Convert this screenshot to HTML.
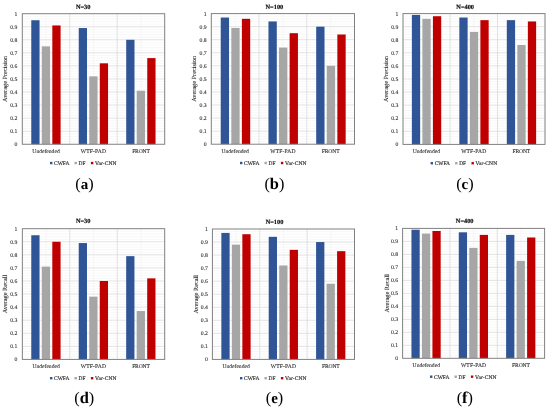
<!DOCTYPE html>
<html lang="en">
<head>
<meta charset="utf-8">
<title>Average precision and recall</title>
<style>
html,body{margin:0;padding:0;background:#fff;}
body{width:550px;height:410px;overflow:hidden;}
svg{display:block;}
text{font-family:"Liberation Serif","DejaVu Serif",serif;fill:#262626;text-rendering:geometricPrecision;}
.mn{stroke:#f1f1f1;stroke-width:0.5;}
.mj{stroke:#d6d6d6;stroke-width:0.7;}
.bd{fill:none;stroke:#808080;stroke-width:1;}
.tk{font-size:5.7px;text-anchor:end;fill:#2e2e2e;stroke:#2e2e2e;stroke-width:0.1;}
.yl{font-size:6.3px;text-anchor:middle;fill:#2e2e2e;stroke:#2e2e2e;stroke-width:0.1;}
.tt{font-size:6.35px;font-weight:bold;text-anchor:middle;fill:#111;stroke:#111;stroke-width:0.18;}
.ct{font-size:5.6px;text-anchor:middle;fill:#2e2e2e;stroke:#2e2e2e;stroke-width:0.1;}
.lg{font-size:5.45px;fill:#262626;stroke:#262626;stroke-width:0.14;}
.cp{font-size:14.7px;text-anchor:middle;fill:#000;}
.cp .bl{font-weight:bold;}
.cp .pr{font-size:16.3px;}
</style>
</head>
<body>
<svg width="550" height="410" viewBox="0 0 550 410">
<rect width="550" height="410" fill="#ffffff"/>
<g class="chart" id="chart-a">
<line class="mn" x1="22.3" x2="164.7" y1="16.31" y2="16.31"/>
<line class="mn" x1="22.3" x2="164.7" y1="18.92" y2="18.92"/>
<line class="mn" x1="22.3" x2="164.7" y1="21.53" y2="21.53"/>
<line class="mn" x1="22.3" x2="164.7" y1="24.14" y2="24.14"/>
<line class="mn" x1="22.3" x2="164.7" y1="29.37" y2="29.37"/>
<line class="mn" x1="22.3" x2="164.7" y1="31.98" y2="31.98"/>
<line class="mn" x1="22.3" x2="164.7" y1="34.59" y2="34.59"/>
<line class="mn" x1="22.3" x2="164.7" y1="37.2" y2="37.2"/>
<line class="mn" x1="22.3" x2="164.7" y1="42.42" y2="42.42"/>
<line class="mn" x1="22.3" x2="164.7" y1="45.03" y2="45.03"/>
<line class="mn" x1="22.3" x2="164.7" y1="47.64" y2="47.64"/>
<line class="mn" x1="22.3" x2="164.7" y1="50.25" y2="50.25"/>
<line class="mn" x1="22.3" x2="164.7" y1="55.48" y2="55.48"/>
<line class="mn" x1="22.3" x2="164.7" y1="58.09" y2="58.09"/>
<line class="mn" x1="22.3" x2="164.7" y1="60.7" y2="60.7"/>
<line class="mn" x1="22.3" x2="164.7" y1="63.31" y2="63.31"/>
<line class="mn" x1="22.3" x2="164.7" y1="68.53" y2="68.53"/>
<line class="mn" x1="22.3" x2="164.7" y1="71.14" y2="71.14"/>
<line class="mn" x1="22.3" x2="164.7" y1="73.75" y2="73.75"/>
<line class="mn" x1="22.3" x2="164.7" y1="76.36" y2="76.36"/>
<line class="mn" x1="22.3" x2="164.7" y1="81.59" y2="81.59"/>
<line class="mn" x1="22.3" x2="164.7" y1="84.2" y2="84.2"/>
<line class="mn" x1="22.3" x2="164.7" y1="86.81" y2="86.81"/>
<line class="mn" x1="22.3" x2="164.7" y1="89.42" y2="89.42"/>
<line class="mn" x1="22.3" x2="164.7" y1="94.64" y2="94.64"/>
<line class="mn" x1="22.3" x2="164.7" y1="97.25" y2="97.25"/>
<line class="mn" x1="22.3" x2="164.7" y1="99.86" y2="99.86"/>
<line class="mn" x1="22.3" x2="164.7" y1="102.47" y2="102.47"/>
<line class="mn" x1="22.3" x2="164.7" y1="107.7" y2="107.7"/>
<line class="mn" x1="22.3" x2="164.7" y1="110.31" y2="110.31"/>
<line class="mn" x1="22.3" x2="164.7" y1="112.92" y2="112.92"/>
<line class="mn" x1="22.3" x2="164.7" y1="115.53" y2="115.53"/>
<line class="mn" x1="22.3" x2="164.7" y1="120.75" y2="120.75"/>
<line class="mn" x1="22.3" x2="164.7" y1="123.36" y2="123.36"/>
<line class="mn" x1="22.3" x2="164.7" y1="125.97" y2="125.97"/>
<line class="mn" x1="22.3" x2="164.7" y1="128.58" y2="128.58"/>
<line class="mn" x1="22.3" x2="164.7" y1="133.81" y2="133.81"/>
<line class="mn" x1="22.3" x2="164.7" y1="136.42" y2="136.42"/>
<line class="mn" x1="22.3" x2="164.7" y1="139.03" y2="139.03"/>
<line class="mn" x1="22.3" x2="164.7" y1="141.64" y2="141.64"/>
<line class="mn" x1="46.03" x2="46.03" y1="13.7" y2="144.25"/>
<line class="mn" x1="93.5" x2="93.5" y1="13.7" y2="144.25"/>
<line class="mn" x1="140.97" x2="140.97" y1="13.7" y2="144.25"/>
<line class="mj" x1="22.3" x2="164.7" y1="26.76" y2="26.76"/>
<line class="mj" x1="22.3" x2="164.7" y1="39.81" y2="39.81"/>
<line class="mj" x1="22.3" x2="164.7" y1="52.87" y2="52.87"/>
<line class="mj" x1="22.3" x2="164.7" y1="65.92" y2="65.92"/>
<line class="mj" x1="22.3" x2="164.7" y1="78.98" y2="78.98"/>
<line class="mj" x1="22.3" x2="164.7" y1="92.03" y2="92.03"/>
<line class="mj" x1="22.3" x2="164.7" y1="105.09" y2="105.09"/>
<line class="mj" x1="22.3" x2="164.7" y1="118.14" y2="118.14"/>
<line class="mj" x1="22.3" x2="164.7" y1="131.19" y2="131.19"/>
<line class="mj" x1="69.77" x2="69.77" y1="13.7" y2="144.25"/>
<line class="mj" x1="117.23" x2="117.23" y1="13.7" y2="144.25"/>
<rect x="31.27" y="20.23" width="8.28" height="124.02" fill="#2f5597"/>
<rect x="41.79" y="46.34" width="8.28" height="97.91" fill="#a6a6a6"/>
<rect x="52.32" y="25.45" width="8.28" height="118.8" fill="#c00000"/>
<rect x="78.74" y="28.06" width="8.28" height="116.19" fill="#2f5597"/>
<rect x="89.26" y="76.36" width="8.28" height="67.89" fill="#a6a6a6"/>
<rect x="99.78" y="63.31" width="8.28" height="80.94" fill="#c00000"/>
<rect x="126.21" y="39.81" width="8.28" height="104.44" fill="#2f5597"/>
<rect x="136.73" y="90.72" width="8.28" height="53.53" fill="#a6a6a6"/>
<rect x="147.25" y="58.09" width="8.28" height="86.16" fill="#c00000"/>
<rect class="bd" x="22.3" y="13.7" width="142.4" height="130.55"/>
<text class="tk" x="17.3" y="146.2">0</text>
<text class="tk" x="17.3" y="133.14">0.1</text>
<text class="tk" x="17.3" y="120.09">0.2</text>
<text class="tk" x="17.3" y="107.03">0.3</text>
<text class="tk" x="17.3" y="93.98">0.4</text>
<text class="tk" x="17.3" y="80.92">0.5</text>
<text class="tk" x="17.3" y="67.87">0.6</text>
<text class="tk" x="17.3" y="54.81">0.7</text>
<text class="tk" x="17.3" y="41.76">0.8</text>
<text class="tk" x="17.3" y="28.7">0.9</text>
<text class="tk" x="17.3" y="15.65">1</text>
<text class="yl" transform="translate(7 78.97) rotate(-90)">Average Precision</text>
<text class="tt" x="83.2" y="8.7">N=30</text>
<text class="ct" x="46.03" y="152.65">Undefended</text>
<text class="ct" x="93.5" y="152.65" letter-spacing="0.14">WTF-PAD</text>
<text class="ct" x="140.97" y="152.65" letter-spacing="-0.14">FRONT</text>
<rect x="50" y="161.85" width="2.4" height="2.4" fill="#2f5597"/>
<text class="lg" x="54.1" y="164.9">CWFA</text>
<rect x="74.5" y="161.85" width="2.4" height="2.4" fill="#a6a6a6"/>
<text class="lg" x="78.6" y="164.9">DF</text>
<rect x="90.9" y="161.85" width="2.4" height="2.4" fill="#c00000"/>
<text class="lg" x="95" y="164.9" letter-spacing="0.13">Var-CNN</text>
<text class="cp" x="84.4" y="189.1"><tspan class="pr" dy="-0.3">(</tspan><tspan class="bl" dy="0.3" font-size="15">a</tspan><tspan class="pr" dy="-0.3">)</tspan></text>
</g>
<g class="chart" id="chart-b">
<line class="mn" x1="211.3" x2="354.5" y1="16.21" y2="16.21"/>
<line class="mn" x1="211.3" x2="354.5" y1="18.82" y2="18.82"/>
<line class="mn" x1="211.3" x2="354.5" y1="21.44" y2="21.44"/>
<line class="mn" x1="211.3" x2="354.5" y1="24.05" y2="24.05"/>
<line class="mn" x1="211.3" x2="354.5" y1="29.27" y2="29.27"/>
<line class="mn" x1="211.3" x2="354.5" y1="31.88" y2="31.88"/>
<line class="mn" x1="211.3" x2="354.5" y1="34.5" y2="34.5"/>
<line class="mn" x1="211.3" x2="354.5" y1="37.11" y2="37.11"/>
<line class="mn" x1="211.3" x2="354.5" y1="42.33" y2="42.33"/>
<line class="mn" x1="211.3" x2="354.5" y1="44.94" y2="44.94"/>
<line class="mn" x1="211.3" x2="354.5" y1="47.56" y2="47.56"/>
<line class="mn" x1="211.3" x2="354.5" y1="50.17" y2="50.17"/>
<line class="mn" x1="211.3" x2="354.5" y1="55.39" y2="55.39"/>
<line class="mn" x1="211.3" x2="354.5" y1="58" y2="58"/>
<line class="mn" x1="211.3" x2="354.5" y1="60.62" y2="60.62"/>
<line class="mn" x1="211.3" x2="354.5" y1="63.23" y2="63.23"/>
<line class="mn" x1="211.3" x2="354.5" y1="68.45" y2="68.45"/>
<line class="mn" x1="211.3" x2="354.5" y1="71.06" y2="71.06"/>
<line class="mn" x1="211.3" x2="354.5" y1="73.68" y2="73.68"/>
<line class="mn" x1="211.3" x2="354.5" y1="76.29" y2="76.29"/>
<line class="mn" x1="211.3" x2="354.5" y1="81.51" y2="81.51"/>
<line class="mn" x1="211.3" x2="354.5" y1="84.12" y2="84.12"/>
<line class="mn" x1="211.3" x2="354.5" y1="86.74" y2="86.74"/>
<line class="mn" x1="211.3" x2="354.5" y1="89.35" y2="89.35"/>
<line class="mn" x1="211.3" x2="354.5" y1="94.57" y2="94.57"/>
<line class="mn" x1="211.3" x2="354.5" y1="97.18" y2="97.18"/>
<line class="mn" x1="211.3" x2="354.5" y1="99.8" y2="99.8"/>
<line class="mn" x1="211.3" x2="354.5" y1="102.41" y2="102.41"/>
<line class="mn" x1="211.3" x2="354.5" y1="107.63" y2="107.63"/>
<line class="mn" x1="211.3" x2="354.5" y1="110.24" y2="110.24"/>
<line class="mn" x1="211.3" x2="354.5" y1="112.86" y2="112.86"/>
<line class="mn" x1="211.3" x2="354.5" y1="115.47" y2="115.47"/>
<line class="mn" x1="211.3" x2="354.5" y1="120.69" y2="120.69"/>
<line class="mn" x1="211.3" x2="354.5" y1="123.3" y2="123.3"/>
<line class="mn" x1="211.3" x2="354.5" y1="125.92" y2="125.92"/>
<line class="mn" x1="211.3" x2="354.5" y1="128.53" y2="128.53"/>
<line class="mn" x1="211.3" x2="354.5" y1="133.75" y2="133.75"/>
<line class="mn" x1="211.3" x2="354.5" y1="136.36" y2="136.36"/>
<line class="mn" x1="211.3" x2="354.5" y1="138.98" y2="138.98"/>
<line class="mn" x1="211.3" x2="354.5" y1="141.59" y2="141.59"/>
<line class="mn" x1="235.17" x2="235.17" y1="13.6" y2="144.2"/>
<line class="mn" x1="282.9" x2="282.9" y1="13.6" y2="144.2"/>
<line class="mn" x1="330.63" x2="330.63" y1="13.6" y2="144.2"/>
<line class="mj" x1="211.3" x2="354.5" y1="26.66" y2="26.66"/>
<line class="mj" x1="211.3" x2="354.5" y1="39.72" y2="39.72"/>
<line class="mj" x1="211.3" x2="354.5" y1="52.78" y2="52.78"/>
<line class="mj" x1="211.3" x2="354.5" y1="65.84" y2="65.84"/>
<line class="mj" x1="211.3" x2="354.5" y1="78.9" y2="78.9"/>
<line class="mj" x1="211.3" x2="354.5" y1="91.96" y2="91.96"/>
<line class="mj" x1="211.3" x2="354.5" y1="105.02" y2="105.02"/>
<line class="mj" x1="211.3" x2="354.5" y1="118.08" y2="118.08"/>
<line class="mj" x1="211.3" x2="354.5" y1="131.14" y2="131.14"/>
<line class="mj" x1="259.03" x2="259.03" y1="13.6" y2="144.2"/>
<line class="mj" x1="306.77" x2="306.77" y1="13.6" y2="144.2"/>
<rect x="220.73" y="17.52" width="8.32" height="126.68" fill="#2f5597"/>
<rect x="231.31" y="27.97" width="8.32" height="116.23" fill="#a6a6a6"/>
<rect x="241.88" y="18.82" width="8.32" height="125.38" fill="#c00000"/>
<rect x="268.46" y="21.44" width="8.32" height="122.76" fill="#2f5597"/>
<rect x="279.04" y="47.56" width="8.32" height="96.64" fill="#a6a6a6"/>
<rect x="289.62" y="33.19" width="8.32" height="111.01" fill="#c00000"/>
<rect x="316.19" y="26.66" width="8.32" height="117.54" fill="#2f5597"/>
<rect x="326.77" y="65.84" width="8.32" height="78.36" fill="#a6a6a6"/>
<rect x="337.35" y="34.5" width="8.32" height="109.7" fill="#c00000"/>
<rect class="bd" x="211.3" y="13.6" width="143.2" height="130.6"/>
<text class="tk" x="206.65" y="146.15">0</text>
<text class="tk" x="206.65" y="133.09">0.1</text>
<text class="tk" x="206.65" y="120.03">0.2</text>
<text class="tk" x="206.65" y="106.97">0.3</text>
<text class="tk" x="206.65" y="93.91">0.4</text>
<text class="tk" x="206.65" y="80.85">0.5</text>
<text class="tk" x="206.65" y="67.79">0.6</text>
<text class="tk" x="206.65" y="54.73">0.7</text>
<text class="tk" x="206.65" y="41.67">0.8</text>
<text class="tk" x="206.65" y="28.61">0.9</text>
<text class="tk" x="206.65" y="15.55">1</text>
<text class="yl" transform="translate(196 78.9) rotate(-90)">Average Precision</text>
<text class="tt" x="274.4" y="8.6">N=100</text>
<text class="ct" x="235.17" y="152.6">Undefended</text>
<text class="ct" x="282.9" y="152.6" letter-spacing="0.14">WTF-PAD</text>
<text class="ct" x="330.63" y="152.6" letter-spacing="-0.14">FRONT</text>
<rect x="240" y="161.8" width="2.4" height="2.4" fill="#2f5597"/>
<text class="lg" x="244.1" y="164.85">CWFA</text>
<rect x="264.5" y="161.8" width="2.4" height="2.4" fill="#a6a6a6"/>
<text class="lg" x="268.6" y="164.85">DF</text>
<rect x="280.9" y="161.8" width="2.4" height="2.4" fill="#c00000"/>
<text class="lg" x="285" y="164.85" letter-spacing="0.13">Var-CNN</text>
<text class="cp" x="274.4" y="189.2"><tspan class="pr" dy="-0.3">(</tspan><tspan class="bl" dy="0.3" font-size="16.4">b</tspan><tspan class="pr" dy="-0.3">)</tspan></text>
</g>
<g class="chart" id="chart-c">
<line class="mn" x1="403" x2="545" y1="16.22" y2="16.22"/>
<line class="mn" x1="403" x2="545" y1="18.83" y2="18.83"/>
<line class="mn" x1="403" x2="545" y1="21.45" y2="21.45"/>
<line class="mn" x1="403" x2="545" y1="24.06" y2="24.06"/>
<line class="mn" x1="403" x2="545" y1="29.3" y2="29.3"/>
<line class="mn" x1="403" x2="545" y1="31.91" y2="31.91"/>
<line class="mn" x1="403" x2="545" y1="34.53" y2="34.53"/>
<line class="mn" x1="403" x2="545" y1="37.14" y2="37.14"/>
<line class="mn" x1="403" x2="545" y1="42.38" y2="42.38"/>
<line class="mn" x1="403" x2="545" y1="44.99" y2="44.99"/>
<line class="mn" x1="403" x2="545" y1="47.61" y2="47.61"/>
<line class="mn" x1="403" x2="545" y1="50.22" y2="50.22"/>
<line class="mn" x1="403" x2="545" y1="55.46" y2="55.46"/>
<line class="mn" x1="403" x2="545" y1="58.07" y2="58.07"/>
<line class="mn" x1="403" x2="545" y1="60.69" y2="60.69"/>
<line class="mn" x1="403" x2="545" y1="63.3" y2="63.3"/>
<line class="mn" x1="403" x2="545" y1="68.54" y2="68.54"/>
<line class="mn" x1="403" x2="545" y1="71.15" y2="71.15"/>
<line class="mn" x1="403" x2="545" y1="73.77" y2="73.77"/>
<line class="mn" x1="403" x2="545" y1="76.38" y2="76.38"/>
<line class="mn" x1="403" x2="545" y1="81.62" y2="81.62"/>
<line class="mn" x1="403" x2="545" y1="84.23" y2="84.23"/>
<line class="mn" x1="403" x2="545" y1="86.85" y2="86.85"/>
<line class="mn" x1="403" x2="545" y1="89.46" y2="89.46"/>
<line class="mn" x1="403" x2="545" y1="94.7" y2="94.7"/>
<line class="mn" x1="403" x2="545" y1="97.31" y2="97.31"/>
<line class="mn" x1="403" x2="545" y1="99.93" y2="99.93"/>
<line class="mn" x1="403" x2="545" y1="102.54" y2="102.54"/>
<line class="mn" x1="403" x2="545" y1="107.78" y2="107.78"/>
<line class="mn" x1="403" x2="545" y1="110.39" y2="110.39"/>
<line class="mn" x1="403" x2="545" y1="113.01" y2="113.01"/>
<line class="mn" x1="403" x2="545" y1="115.62" y2="115.62"/>
<line class="mn" x1="403" x2="545" y1="120.86" y2="120.86"/>
<line class="mn" x1="403" x2="545" y1="123.47" y2="123.47"/>
<line class="mn" x1="403" x2="545" y1="126.09" y2="126.09"/>
<line class="mn" x1="403" x2="545" y1="128.7" y2="128.7"/>
<line class="mn" x1="403" x2="545" y1="133.94" y2="133.94"/>
<line class="mn" x1="403" x2="545" y1="136.55" y2="136.55"/>
<line class="mn" x1="403" x2="545" y1="139.17" y2="139.17"/>
<line class="mn" x1="403" x2="545" y1="141.78" y2="141.78"/>
<line class="mn" x1="426.33" x2="426.33" y1="13.6" y2="144.4"/>
<line class="mn" x1="473.8" x2="473.8" y1="13.6" y2="144.4"/>
<line class="mn" x1="521.27" x2="521.27" y1="13.6" y2="144.4"/>
<line class="mj" x1="403" x2="545" y1="26.68" y2="26.68"/>
<line class="mj" x1="403" x2="545" y1="39.76" y2="39.76"/>
<line class="mj" x1="403" x2="545" y1="52.84" y2="52.84"/>
<line class="mj" x1="403" x2="545" y1="65.92" y2="65.92"/>
<line class="mj" x1="403" x2="545" y1="79" y2="79"/>
<line class="mj" x1="403" x2="545" y1="92.08" y2="92.08"/>
<line class="mj" x1="403" x2="545" y1="105.16" y2="105.16"/>
<line class="mj" x1="403" x2="545" y1="118.24" y2="118.24"/>
<line class="mj" x1="403" x2="545" y1="131.32" y2="131.32"/>
<line class="mj" x1="450.07" x2="450.07" y1="13.6" y2="144.4"/>
<line class="mj" x1="497.53" x2="497.53" y1="13.6" y2="144.4"/>
<rect x="411.87" y="14.91" width="8.28" height="129.49" fill="#2f5597"/>
<rect x="422.39" y="18.83" width="8.28" height="125.57" fill="#a6a6a6"/>
<rect x="432.92" y="16.22" width="8.28" height="128.18" fill="#c00000"/>
<rect x="459.34" y="17.52" width="8.28" height="126.88" fill="#2f5597"/>
<rect x="469.86" y="31.91" width="8.28" height="112.49" fill="#a6a6a6"/>
<rect x="480.38" y="20.14" width="8.28" height="124.26" fill="#c00000"/>
<rect x="506.81" y="20.14" width="8.28" height="124.26" fill="#2f5597"/>
<rect x="517.33" y="44.99" width="8.28" height="99.41" fill="#a6a6a6"/>
<rect x="527.85" y="21.45" width="8.28" height="122.95" fill="#c00000"/>
<rect class="bd" x="403" y="13.6" width="142" height="130.8"/>
<text class="tk" x="398.3" y="146.35">0</text>
<text class="tk" x="398.3" y="133.27">0.1</text>
<text class="tk" x="398.3" y="120.19">0.2</text>
<text class="tk" x="398.3" y="107.11">0.3</text>
<text class="tk" x="398.3" y="94.03">0.4</text>
<text class="tk" x="398.3" y="80.95">0.5</text>
<text class="tk" x="398.3" y="67.87">0.6</text>
<text class="tk" x="398.3" y="54.79">0.7</text>
<text class="tk" x="398.3" y="41.71">0.8</text>
<text class="tk" x="398.3" y="28.63">0.9</text>
<text class="tk" x="398.3" y="15.55">1</text>
<text class="yl" transform="translate(387.95 79) rotate(-90)">Average Precision</text>
<text class="tt" x="465.2" y="8.6">N=400</text>
<text class="ct" x="426.33" y="153">Undefended</text>
<text class="ct" x="473.8" y="153" letter-spacing="0.14">WTF-PAD</text>
<text class="ct" x="521.27" y="153" letter-spacing="-0.14">FRONT</text>
<rect x="430.6" y="162" width="2.4" height="2.4" fill="#2f5597"/>
<text class="lg" x="434.7" y="165.05">CWFA</text>
<rect x="455.1" y="162" width="2.4" height="2.4" fill="#a6a6a6"/>
<text class="lg" x="459.2" y="165.05">DF</text>
<rect x="471.5" y="162" width="2.4" height="2.4" fill="#c00000"/>
<text class="lg" x="475.6" y="165.05" letter-spacing="0.13">Var-CNN</text>
<text class="cp" x="464.9" y="189.1"><tspan class="pr" dy="-0.3">(</tspan><tspan class="bl" dy="0.3" font-size="15">c</tspan><tspan class="pr" dy="-0.3">)</tspan></text>
</g>
<g class="chart" id="chart-d">
<line class="mn" x1="22.35" x2="164.7" y1="231.31" y2="231.31"/>
<line class="mn" x1="22.35" x2="164.7" y1="233.93" y2="233.93"/>
<line class="mn" x1="22.35" x2="164.7" y1="236.54" y2="236.54"/>
<line class="mn" x1="22.35" x2="164.7" y1="239.16" y2="239.16"/>
<line class="mn" x1="22.35" x2="164.7" y1="244.38" y2="244.38"/>
<line class="mn" x1="22.35" x2="164.7" y1="247" y2="247"/>
<line class="mn" x1="22.35" x2="164.7" y1="249.61" y2="249.61"/>
<line class="mn" x1="22.35" x2="164.7" y1="252.23" y2="252.23"/>
<line class="mn" x1="22.35" x2="164.7" y1="257.45" y2="257.45"/>
<line class="mn" x1="22.35" x2="164.7" y1="260.07" y2="260.07"/>
<line class="mn" x1="22.35" x2="164.7" y1="262.68" y2="262.68"/>
<line class="mn" x1="22.35" x2="164.7" y1="265.3" y2="265.3"/>
<line class="mn" x1="22.35" x2="164.7" y1="270.52" y2="270.52"/>
<line class="mn" x1="22.35" x2="164.7" y1="273.14" y2="273.14"/>
<line class="mn" x1="22.35" x2="164.7" y1="275.75" y2="275.75"/>
<line class="mn" x1="22.35" x2="164.7" y1="278.37" y2="278.37"/>
<line class="mn" x1="22.35" x2="164.7" y1="283.59" y2="283.59"/>
<line class="mn" x1="22.35" x2="164.7" y1="286.21" y2="286.21"/>
<line class="mn" x1="22.35" x2="164.7" y1="288.82" y2="288.82"/>
<line class="mn" x1="22.35" x2="164.7" y1="291.44" y2="291.44"/>
<line class="mn" x1="22.35" x2="164.7" y1="296.66" y2="296.66"/>
<line class="mn" x1="22.35" x2="164.7" y1="299.28" y2="299.28"/>
<line class="mn" x1="22.35" x2="164.7" y1="301.89" y2="301.89"/>
<line class="mn" x1="22.35" x2="164.7" y1="304.51" y2="304.51"/>
<line class="mn" x1="22.35" x2="164.7" y1="309.73" y2="309.73"/>
<line class="mn" x1="22.35" x2="164.7" y1="312.35" y2="312.35"/>
<line class="mn" x1="22.35" x2="164.7" y1="314.96" y2="314.96"/>
<line class="mn" x1="22.35" x2="164.7" y1="317.58" y2="317.58"/>
<line class="mn" x1="22.35" x2="164.7" y1="322.8" y2="322.8"/>
<line class="mn" x1="22.35" x2="164.7" y1="325.42" y2="325.42"/>
<line class="mn" x1="22.35" x2="164.7" y1="328.03" y2="328.03"/>
<line class="mn" x1="22.35" x2="164.7" y1="330.65" y2="330.65"/>
<line class="mn" x1="22.35" x2="164.7" y1="335.87" y2="335.87"/>
<line class="mn" x1="22.35" x2="164.7" y1="338.49" y2="338.49"/>
<line class="mn" x1="22.35" x2="164.7" y1="341.1" y2="341.1"/>
<line class="mn" x1="22.35" x2="164.7" y1="343.72" y2="343.72"/>
<line class="mn" x1="22.35" x2="164.7" y1="348.94" y2="348.94"/>
<line class="mn" x1="22.35" x2="164.7" y1="351.56" y2="351.56"/>
<line class="mn" x1="22.35" x2="164.7" y1="354.17" y2="354.17"/>
<line class="mn" x1="22.35" x2="164.7" y1="356.79" y2="356.79"/>
<line class="mn" x1="46.08" x2="46.08" y1="228.7" y2="359.4"/>
<line class="mn" x1="93.53" x2="93.53" y1="228.7" y2="359.4"/>
<line class="mn" x1="140.97" x2="140.97" y1="228.7" y2="359.4"/>
<line class="mj" x1="22.35" x2="164.7" y1="241.77" y2="241.77"/>
<line class="mj" x1="22.35" x2="164.7" y1="254.84" y2="254.84"/>
<line class="mj" x1="22.35" x2="164.7" y1="267.91" y2="267.91"/>
<line class="mj" x1="22.35" x2="164.7" y1="280.98" y2="280.98"/>
<line class="mj" x1="22.35" x2="164.7" y1="294.05" y2="294.05"/>
<line class="mj" x1="22.35" x2="164.7" y1="307.12" y2="307.12"/>
<line class="mj" x1="22.35" x2="164.7" y1="320.19" y2="320.19"/>
<line class="mj" x1="22.35" x2="164.7" y1="333.26" y2="333.26"/>
<line class="mj" x1="22.35" x2="164.7" y1="346.33" y2="346.33"/>
<line class="mj" x1="69.8" x2="69.8" y1="228.7" y2="359.4"/>
<line class="mj" x1="117.25" x2="117.25" y1="228.7" y2="359.4"/>
<rect x="31.27" y="235.24" width="8.27" height="124.16" fill="#2f5597"/>
<rect x="41.79" y="266.6" width="8.27" height="92.8" fill="#a6a6a6"/>
<rect x="52.3" y="241.77" width="8.27" height="117.63" fill="#c00000"/>
<rect x="78.72" y="243.08" width="8.27" height="116.32" fill="#2f5597"/>
<rect x="89.24" y="296.66" width="8.27" height="62.74" fill="#a6a6a6"/>
<rect x="99.75" y="280.98" width="8.27" height="78.42" fill="#c00000"/>
<rect x="126.17" y="256.15" width="8.27" height="103.25" fill="#2f5597"/>
<rect x="136.69" y="311.04" width="8.27" height="48.36" fill="#a6a6a6"/>
<rect x="147.2" y="278.37" width="8.27" height="81.03" fill="#c00000"/>
<rect class="bd" x="22.35" y="228.7" width="142.35" height="130.7"/>
<text class="tk" x="17.35" y="361.35">0</text>
<text class="tk" x="17.35" y="348.28">0.1</text>
<text class="tk" x="17.35" y="335.21">0.2</text>
<text class="tk" x="17.35" y="322.14">0.3</text>
<text class="tk" x="17.35" y="309.07">0.4</text>
<text class="tk" x="17.35" y="296">0.5</text>
<text class="tk" x="17.35" y="282.93">0.6</text>
<text class="tk" x="17.35" y="269.86">0.7</text>
<text class="tk" x="17.35" y="256.79">0.8</text>
<text class="tk" x="17.35" y="243.72">0.9</text>
<text class="tk" x="17.35" y="230.65">1</text>
<text class="yl" transform="translate(7 294.05) rotate(-90)">Average Recall</text>
<text class="tt" x="83.2" y="223.2">N=30</text>
<text class="ct" x="46.08" y="367.8">Undefended</text>
<text class="ct" x="93.53" y="367.8" letter-spacing="0.14">WTF-PAD</text>
<text class="ct" x="140.97" y="367.8" letter-spacing="-0.14">FRONT</text>
<rect x="50" y="377" width="2.4" height="2.4" fill="#2f5597"/>
<text class="lg" x="54.1" y="380.05">CWFA</text>
<rect x="74.5" y="377" width="2.4" height="2.4" fill="#a6a6a6"/>
<text class="lg" x="78.6" y="380.05">DF</text>
<rect x="90.9" y="377" width="2.4" height="2.4" fill="#c00000"/>
<text class="lg" x="95" y="380.05" letter-spacing="0.13">Var-CNN</text>
<text class="cp" x="84.3" y="403.4"><tspan class="pr" dy="-0.3">(</tspan><tspan class="bl" dy="0.3" font-size="16.4">d</tspan><tspan class="pr" dy="-0.3">)</tspan></text>
</g>
<g class="chart" id="chart-e">
<line class="mn" x1="212.4" x2="354.5" y1="231.61" y2="231.61"/>
<line class="mn" x1="212.4" x2="354.5" y1="234.22" y2="234.22"/>
<line class="mn" x1="212.4" x2="354.5" y1="236.82" y2="236.82"/>
<line class="mn" x1="212.4" x2="354.5" y1="239.43" y2="239.43"/>
<line class="mn" x1="212.4" x2="354.5" y1="244.65" y2="244.65"/>
<line class="mn" x1="212.4" x2="354.5" y1="247.26" y2="247.26"/>
<line class="mn" x1="212.4" x2="354.5" y1="249.86" y2="249.86"/>
<line class="mn" x1="212.4" x2="354.5" y1="252.47" y2="252.47"/>
<line class="mn" x1="212.4" x2="354.5" y1="257.69" y2="257.69"/>
<line class="mn" x1="212.4" x2="354.5" y1="260.3" y2="260.3"/>
<line class="mn" x1="212.4" x2="354.5" y1="262.9" y2="262.9"/>
<line class="mn" x1="212.4" x2="354.5" y1="265.51" y2="265.51"/>
<line class="mn" x1="212.4" x2="354.5" y1="270.73" y2="270.73"/>
<line class="mn" x1="212.4" x2="354.5" y1="273.34" y2="273.34"/>
<line class="mn" x1="212.4" x2="354.5" y1="275.94" y2="275.94"/>
<line class="mn" x1="212.4" x2="354.5" y1="278.55" y2="278.55"/>
<line class="mn" x1="212.4" x2="354.5" y1="283.77" y2="283.77"/>
<line class="mn" x1="212.4" x2="354.5" y1="286.38" y2="286.38"/>
<line class="mn" x1="212.4" x2="354.5" y1="288.98" y2="288.98"/>
<line class="mn" x1="212.4" x2="354.5" y1="291.59" y2="291.59"/>
<line class="mn" x1="212.4" x2="354.5" y1="296.81" y2="296.81"/>
<line class="mn" x1="212.4" x2="354.5" y1="299.42" y2="299.42"/>
<line class="mn" x1="212.4" x2="354.5" y1="302.02" y2="302.02"/>
<line class="mn" x1="212.4" x2="354.5" y1="304.63" y2="304.63"/>
<line class="mn" x1="212.4" x2="354.5" y1="309.85" y2="309.85"/>
<line class="mn" x1="212.4" x2="354.5" y1="312.46" y2="312.46"/>
<line class="mn" x1="212.4" x2="354.5" y1="315.06" y2="315.06"/>
<line class="mn" x1="212.4" x2="354.5" y1="317.67" y2="317.67"/>
<line class="mn" x1="212.4" x2="354.5" y1="322.89" y2="322.89"/>
<line class="mn" x1="212.4" x2="354.5" y1="325.5" y2="325.5"/>
<line class="mn" x1="212.4" x2="354.5" y1="328.1" y2="328.1"/>
<line class="mn" x1="212.4" x2="354.5" y1="330.71" y2="330.71"/>
<line class="mn" x1="212.4" x2="354.5" y1="335.93" y2="335.93"/>
<line class="mn" x1="212.4" x2="354.5" y1="338.54" y2="338.54"/>
<line class="mn" x1="212.4" x2="354.5" y1="341.14" y2="341.14"/>
<line class="mn" x1="212.4" x2="354.5" y1="343.75" y2="343.75"/>
<line class="mn" x1="212.4" x2="354.5" y1="348.97" y2="348.97"/>
<line class="mn" x1="212.4" x2="354.5" y1="351.58" y2="351.58"/>
<line class="mn" x1="212.4" x2="354.5" y1="354.18" y2="354.18"/>
<line class="mn" x1="212.4" x2="354.5" y1="356.79" y2="356.79"/>
<line class="mn" x1="236.08" x2="236.08" y1="229" y2="359.4"/>
<line class="mn" x1="283.45" x2="283.45" y1="229" y2="359.4"/>
<line class="mn" x1="330.82" x2="330.82" y1="229" y2="359.4"/>
<line class="mj" x1="212.4" x2="354.5" y1="242.04" y2="242.04"/>
<line class="mj" x1="212.4" x2="354.5" y1="255.08" y2="255.08"/>
<line class="mj" x1="212.4" x2="354.5" y1="268.12" y2="268.12"/>
<line class="mj" x1="212.4" x2="354.5" y1="281.16" y2="281.16"/>
<line class="mj" x1="212.4" x2="354.5" y1="294.2" y2="294.2"/>
<line class="mj" x1="212.4" x2="354.5" y1="307.24" y2="307.24"/>
<line class="mj" x1="212.4" x2="354.5" y1="320.28" y2="320.28"/>
<line class="mj" x1="212.4" x2="354.5" y1="333.32" y2="333.32"/>
<line class="mj" x1="212.4" x2="354.5" y1="346.36" y2="346.36"/>
<line class="mj" x1="259.77" x2="259.77" y1="229" y2="359.4"/>
<line class="mj" x1="307.13" x2="307.13" y1="229" y2="359.4"/>
<rect x="221.36" y="232.91" width="8.26" height="126.49" fill="#2f5597"/>
<rect x="231.85" y="244.65" width="8.26" height="114.75" fill="#a6a6a6"/>
<rect x="242.35" y="234.22" width="8.26" height="125.18" fill="#c00000"/>
<rect x="268.72" y="236.82" width="8.26" height="122.58" fill="#2f5597"/>
<rect x="279.22" y="265.51" width="8.26" height="93.89" fill="#a6a6a6"/>
<rect x="289.72" y="249.86" width="8.26" height="109.54" fill="#c00000"/>
<rect x="316.09" y="242.04" width="8.26" height="117.36" fill="#2f5597"/>
<rect x="326.59" y="283.77" width="8.26" height="75.63" fill="#a6a6a6"/>
<rect x="337.09" y="251.17" width="8.26" height="108.23" fill="#c00000"/>
<rect class="bd" x="212.4" y="229" width="142.1" height="130.4"/>
<text class="tk" x="207.9" y="361.35">0</text>
<text class="tk" x="207.9" y="348.31">0.1</text>
<text class="tk" x="207.9" y="335.27">0.2</text>
<text class="tk" x="207.9" y="322.23">0.3</text>
<text class="tk" x="207.9" y="309.19">0.4</text>
<text class="tk" x="207.9" y="296.15">0.5</text>
<text class="tk" x="207.9" y="283.11">0.6</text>
<text class="tk" x="207.9" y="270.07">0.7</text>
<text class="tk" x="207.9" y="257.03">0.8</text>
<text class="tk" x="207.9" y="243.99">0.9</text>
<text class="tk" x="207.9" y="230.95">1</text>
<text class="yl" transform="translate(197.6 294.2) rotate(-90)">Average Recall</text>
<text class="tt" x="274.5" y="223.5">N=100</text>
<text class="ct" x="236.08" y="367.9">Undefended</text>
<text class="ct" x="283.45" y="367.9" letter-spacing="0.14">WTF-PAD</text>
<text class="ct" x="330.82" y="367.9" letter-spacing="-0.14">FRONT</text>
<rect x="240" y="377" width="2.4" height="2.4" fill="#2f5597"/>
<text class="lg" x="244.1" y="380.05">CWFA</text>
<rect x="264.5" y="377" width="2.4" height="2.4" fill="#a6a6a6"/>
<text class="lg" x="268.6" y="380.05">DF</text>
<rect x="280.9" y="377" width="2.4" height="2.4" fill="#c00000"/>
<text class="lg" x="285" y="380.05" letter-spacing="0.13">Var-CNN</text>
<text class="cp" x="274.5" y="403.4"><tspan class="pr" dy="-0.3">(</tspan><tspan class="bl" dy="0.3" font-size="15">e</tspan><tspan class="pr" dy="-0.3">)</tspan></text>
</g>
<g class="chart" id="chart-f">
<line class="mn" x1="402.6" x2="544.6" y1="231" y2="231"/>
<line class="mn" x1="402.6" x2="544.6" y1="233.6" y2="233.6"/>
<line class="mn" x1="402.6" x2="544.6" y1="236.19" y2="236.19"/>
<line class="mn" x1="402.6" x2="544.6" y1="238.79" y2="238.79"/>
<line class="mn" x1="402.6" x2="544.6" y1="243.99" y2="243.99"/>
<line class="mn" x1="402.6" x2="544.6" y1="246.59" y2="246.59"/>
<line class="mn" x1="402.6" x2="544.6" y1="249.18" y2="249.18"/>
<line class="mn" x1="402.6" x2="544.6" y1="251.78" y2="251.78"/>
<line class="mn" x1="402.6" x2="544.6" y1="256.98" y2="256.98"/>
<line class="mn" x1="402.6" x2="544.6" y1="259.58" y2="259.58"/>
<line class="mn" x1="402.6" x2="544.6" y1="262.17" y2="262.17"/>
<line class="mn" x1="402.6" x2="544.6" y1="264.77" y2="264.77"/>
<line class="mn" x1="402.6" x2="544.6" y1="269.97" y2="269.97"/>
<line class="mn" x1="402.6" x2="544.6" y1="272.57" y2="272.57"/>
<line class="mn" x1="402.6" x2="544.6" y1="275.16" y2="275.16"/>
<line class="mn" x1="402.6" x2="544.6" y1="277.76" y2="277.76"/>
<line class="mn" x1="402.6" x2="544.6" y1="282.96" y2="282.96"/>
<line class="mn" x1="402.6" x2="544.6" y1="285.56" y2="285.56"/>
<line class="mn" x1="402.6" x2="544.6" y1="288.15" y2="288.15"/>
<line class="mn" x1="402.6" x2="544.6" y1="290.75" y2="290.75"/>
<line class="mn" x1="402.6" x2="544.6" y1="295.95" y2="295.95"/>
<line class="mn" x1="402.6" x2="544.6" y1="298.55" y2="298.55"/>
<line class="mn" x1="402.6" x2="544.6" y1="301.14" y2="301.14"/>
<line class="mn" x1="402.6" x2="544.6" y1="303.74" y2="303.74"/>
<line class="mn" x1="402.6" x2="544.6" y1="308.94" y2="308.94"/>
<line class="mn" x1="402.6" x2="544.6" y1="311.54" y2="311.54"/>
<line class="mn" x1="402.6" x2="544.6" y1="314.13" y2="314.13"/>
<line class="mn" x1="402.6" x2="544.6" y1="316.73" y2="316.73"/>
<line class="mn" x1="402.6" x2="544.6" y1="321.93" y2="321.93"/>
<line class="mn" x1="402.6" x2="544.6" y1="324.53" y2="324.53"/>
<line class="mn" x1="402.6" x2="544.6" y1="327.12" y2="327.12"/>
<line class="mn" x1="402.6" x2="544.6" y1="329.72" y2="329.72"/>
<line class="mn" x1="402.6" x2="544.6" y1="334.92" y2="334.92"/>
<line class="mn" x1="402.6" x2="544.6" y1="337.52" y2="337.52"/>
<line class="mn" x1="402.6" x2="544.6" y1="340.11" y2="340.11"/>
<line class="mn" x1="402.6" x2="544.6" y1="342.71" y2="342.71"/>
<line class="mn" x1="402.6" x2="544.6" y1="347.91" y2="347.91"/>
<line class="mn" x1="402.6" x2="544.6" y1="350.51" y2="350.51"/>
<line class="mn" x1="402.6" x2="544.6" y1="353.1" y2="353.1"/>
<line class="mn" x1="402.6" x2="544.6" y1="355.7" y2="355.7"/>
<line class="mn" x1="426.27" x2="426.27" y1="228.4" y2="358.3"/>
<line class="mn" x1="473.6" x2="473.6" y1="228.4" y2="358.3"/>
<line class="mn" x1="520.93" x2="520.93" y1="228.4" y2="358.3"/>
<line class="mj" x1="402.6" x2="544.6" y1="241.39" y2="241.39"/>
<line class="mj" x1="402.6" x2="544.6" y1="254.38" y2="254.38"/>
<line class="mj" x1="402.6" x2="544.6" y1="267.37" y2="267.37"/>
<line class="mj" x1="402.6" x2="544.6" y1="280.36" y2="280.36"/>
<line class="mj" x1="402.6" x2="544.6" y1="293.35" y2="293.35"/>
<line class="mj" x1="402.6" x2="544.6" y1="306.34" y2="306.34"/>
<line class="mj" x1="402.6" x2="544.6" y1="319.33" y2="319.33"/>
<line class="mj" x1="402.6" x2="544.6" y1="332.32" y2="332.32"/>
<line class="mj" x1="402.6" x2="544.6" y1="345.31" y2="345.31"/>
<line class="mj" x1="449.93" x2="449.93" y1="228.4" y2="358.3"/>
<line class="mj" x1="497.27" x2="497.27" y1="228.4" y2="358.3"/>
<rect x="411.45" y="229.7" width="8.25" height="128.6" fill="#2f5597"/>
<rect x="421.94" y="233.6" width="8.25" height="124.7" fill="#a6a6a6"/>
<rect x="432.43" y="231" width="8.25" height="127.3" fill="#c00000"/>
<rect x="458.78" y="232.3" width="8.25" height="126" fill="#2f5597"/>
<rect x="469.27" y="247.88" width="8.25" height="110.42" fill="#a6a6a6"/>
<rect x="479.76" y="234.9" width="8.25" height="123.41" fill="#c00000"/>
<rect x="506.12" y="234.9" width="8.25" height="123.41" fill="#2f5597"/>
<rect x="516.61" y="260.88" width="8.25" height="97.43" fill="#a6a6a6"/>
<rect x="527.1" y="237.49" width="8.25" height="120.81" fill="#c00000"/>
<rect class="bd" x="402.6" y="228.4" width="142" height="129.9"/>
<text class="tk" x="398.1" y="360.25">0</text>
<text class="tk" x="398.1" y="347.26">0.1</text>
<text class="tk" x="398.1" y="334.27">0.2</text>
<text class="tk" x="398.1" y="321.28">0.3</text>
<text class="tk" x="398.1" y="308.29">0.4</text>
<text class="tk" x="398.1" y="295.3">0.5</text>
<text class="tk" x="398.1" y="282.31">0.6</text>
<text class="tk" x="398.1" y="269.32">0.7</text>
<text class="tk" x="398.1" y="256.33">0.8</text>
<text class="tk" x="398.1" y="243.34">0.9</text>
<text class="tk" x="398.1" y="230.35">1</text>
<text class="yl" transform="translate(388.5 293.35) rotate(-90)">Average Recall</text>
<text class="tt" x="464.7" y="222.9">N=400</text>
<text class="ct" x="426.27" y="367.1">Undefended</text>
<text class="ct" x="473.6" y="367.1" letter-spacing="0.14">WTF-PAD</text>
<text class="ct" x="520.93" y="367.1" letter-spacing="-0.14">FRONT</text>
<rect x="430" y="375.5" width="2.4" height="2.4" fill="#2f5597"/>
<text class="lg" x="434.1" y="378.55">CWFA</text>
<rect x="454.5" y="375.5" width="2.4" height="2.4" fill="#a6a6a6"/>
<text class="lg" x="458.6" y="378.55">DF</text>
<rect x="470.9" y="375.5" width="2.4" height="2.4" fill="#c00000"/>
<text class="lg" x="475" y="378.55" letter-spacing="0.13">Var-CNN</text>
<text class="cp" x="464.8" y="403.3"><tspan class="pr" dy="-0.3">(</tspan><tspan class="bl" dy="0.3" font-size="16.4">f</tspan><tspan class="pr" dy="-0.3">)</tspan></text>
</g>
</svg>
</body>
</html>
